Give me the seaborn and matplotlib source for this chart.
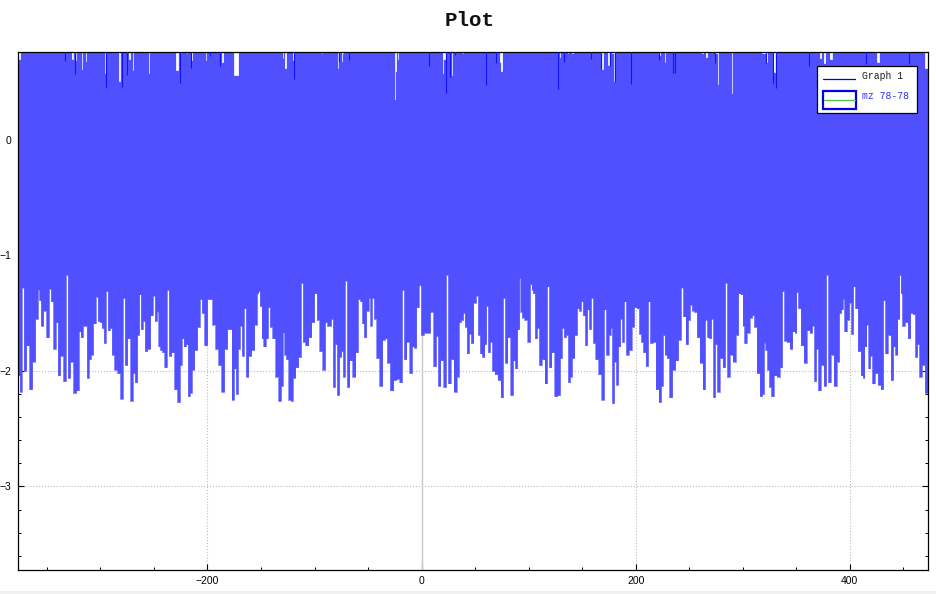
import pandas as pd
import seaborn as sns
from matplotlib import pyplot as plt
from matplotlib.lines import Line2D
from matplotlib.patches import Rectangle
from matplotlib.ticker import MultipleLocator

sns.set_style('white')
plt.rcParams['font.family'] = ['Liberation Sans', 'DejaVu Sans']

# lower edge of the signal
low_x = [-378.0, -376.3, -374.5, -372.6, -370.7, -367.9, -365.1, -362.3, -359.5, -357.6, -356.7, -354.8, -352.0, -349.2, -347.1, -345.5, -342.7, -340.8, -339.0, -336.2, -333.3, -331.5, -329.6, -326.8, -324.0, -321.2, -319.3, -317.8, -315.0, -313.7, -311.9, -310.0, -308.1, -305.6, -303.4, -301.6, -299.7, -297.8, -296.0, -294.1, -292.2, -290.4, -288.5, -285.7, -282.9, -280.1, -278.2, -276.3, -273.5, -270.7, -268.9, -267.0, -264.2, -263.3, -261.4, -259.5, -257.6, -254.8, -252.0, -250.2, -248.3, -246.4, -245.2, -243.3, -241.4, -239.0, -237.1, -235.2, -232.4, -229.6, -226.8, -224.9, -223.4, -221.2, -219.3, -217.5, -215.6, -213.7, -210.9, -208.1, -206.3, -204.4, -201.6, -198.8, -196.9, -194.1, -191.3, -188.5, -185.7, -182.9, -180.1,
         -178.8, -176.3, -174.4, -172.5, -170.7, -168.8, -167.0, -165.1, -163.2, -160.4, -157.6, -154.8, -152.9, -152.0, -150.4, -148.6, -147.0, -144.5, -142.6, -140.8, -138.0, -135.2, -132.4, -130.5, -128.9, -127.4, -125.8, -123.0, -121.5, -119.3, -116.5, -113.7, -111.8, -110.2, -107.1, -104.3, -101.5, -99.0, -96.9, -94.0, -91.2, -89.1, -87.2, -85.3, -83.8, -81.9, -80.0, -78.2, -75.7, -74.4, -72.6, -70.7, -68.8, -66.0, -63.2, -60.4, -58.5, -56.4, -54.8, -52.9, -50.4, -48.6, -47.3, -45.5, -43.6, -40.8, -38.0, -35.2, -33.3, -31.4, -27.7, -24.9, -22.1, -19.3, -17.4, -15.6, -12.7, -10.0, -8.1, -6.2, -3.7, -1.8, 0.6, 3.4, 6.6, 9.4, 12.5, 14.4, 16.2, 19.0, 21.8, 23.7, 25.6, 28.4, 31.2, 34.0,
         35.5, 38.0, 39.5, 41.1, 43.3, 45.2, 47.0, 49.8, 51.7, 53.6, 55.4, 57.6, 59.8, 61.0, 62.9, 64.8, 66.7, 69.5, 72.3, 75.1, 76.9, 78.8, 81.6, 84.4, 86.3, 88.1, 90.6, 91.9, 92.8, 94.7, 97.5, 100.3, 102.2, 103.1, 104.7, 106.8, 108.7, 110.6, 113.4, 116.2, 118.1, 119.9, 122.7, 125.5, 128.3, 130.2, 131.8, 133.9, 135.8, 137.7, 139.5, 141.4, 144.2, 146.1, 148.0, 149.8, 151.4, 153.9, 155.4, 157.3, 159.2, 161.0, 163.8, 166.6, 169.4, 171.3, 173.2, 176.0, 176.9, 178.8, 180.7, 182.5, 184.7, 186.3, 188.1, 190.0, 191.9, 194.7, 197.5, 199.4, 202.2, 204.0, 205.9, 207.8, 210.6, 212.4, 214.3, 217.1, 219.9, 222.7, 224.6, 226.1, 228.0, 229.9, 232.7, 235.5, 238.3, 241.1, 243.3, 245.1, 247.9, 249.8, 251.4, 253.5,
         255.7, 258.2, 261.0, 263.8, 265.7, 267.6, 269.7, 271.3, 273.2, 275.0, 276.9, 279.7, 282.5, 284.4, 286.3, 289.1, 291.9, 294.7, 296.8, 299.0, 300.6, 302.1, 304.9, 307.7, 309.6, 311.5, 314.3, 317.1, 319.0, 320.5, 321.8, 323.6, 325.5, 327.4, 330.2, 333.0, 335.8, 337.7, 339.5, 342.3, 345.1, 347.6, 349.5, 350.7, 352.6, 355.4, 358.2, 361.0, 363.8, 365.7, 367.6, 369.4, 371.3, 374.1, 376.9, 378.8, 380.6, 383.4, 386.2, 389.0, 390.9, 392.8, 394.0, 395.6, 398.4, 400.3, 402.1, 404.0, 405.9, 408.7, 411.5, 412.7, 414.6, 416.5, 418.0, 419.9, 421.8, 424.6, 427.4, 430.2, 432.0, 433.9, 436.7, 439.5, 441.4, 443.2, 445.7, 447.0, 447.9, 449.8, 452.6, 455.4, 457.6, 459.8, 462.0, 463.8, 465.7, 468.5, 471.3, 474.0]
low_y = [-2.04, -2.04, -2.18, -1.28, -2.00, -1.78, -2.16, -1.92, -1.55, -1.30, -1.39, -1.61, -1.48, -1.71, -1.29, -1.40, -1.81, -1.58, -2.04, -1.87, -2.09, -1.17, -2.06, -1.92, -2.19, -2.17, -1.66, -1.71, -1.61, -1.61, -2.06, -1.90, -1.86, -1.59, -1.36, -1.57, -1.58, -1.63, -1.76, -1.31, -1.65, -1.63, -1.86, -1.99, -2.02, -2.24, -1.37, -1.95, -1.72, -2.26, -2.02, -2.10, -1.69, -1.34, -1.64, -1.57, -1.83, -1.81, -1.52, -1.35, -1.57, -1.49, -1.79, -1.82, -1.84, -1.97, -1.30, -1.87, -1.84, -2.16, -2.27, -1.95, -1.72, -1.79, -1.77, -2.22, -2.19, -1.99, -1.82, -1.62, -1.38, -1.50, -1.78, -1.38, -1.38, -1.60, -1.81, -1.95, -2.18, -1.81, -1.64,
         -1.64, -2.25, -1.98, -2.20, -1.81, -1.61, -1.87, -1.46, -2.05, -1.87, -1.82, -1.60, -1.33, -1.31, -1.44, -1.72, -1.79, -1.72, -1.45, -1.62, -1.72, -2.05, -2.26, -2.13, -1.67, -1.86, -1.90, -2.25, -2.26, -2.06, -1.97, -1.88, -1.24, -1.75, -1.78, -1.71, -1.58, -1.33, -1.56, -1.83, -1.99, -1.58, -1.61, -1.61, -1.55, -2.14, -1.77, -2.21, -1.88, -1.83, -2.05, -1.22, -2.14, -1.91, -2.05, -1.84, -1.38, -1.40, -1.59, -1.71, -1.48, -1.37, -1.61, -1.37, -1.55, -1.89, -2.13, -1.73, -1.72, -1.93, -2.17, -2.08, -2.07, -2.10, -1.30, -1.90, -1.75, -2.02, -1.79, -1.80, -1.45, -1.26, -1.69, -1.67, -1.67, -1.49, -1.96, -1.70, -2.13, -1.91, -2.14, -1.17, -2.11, -1.90, -2.18, -2.05,
         -1.58, -1.56, -1.50, -1.62, -1.85, -1.68, -1.76, -1.41, -1.35, -1.69, -1.85, -1.88, -1.77, -1.44, -1.84, -1.75, -2.00, -2.03, -2.08, -2.23, -1.37, -1.93, -1.71, -2.21, -1.91, -1.98, -1.64, -1.20, -1.49, -1.54, -1.56, -1.75, -1.25, -1.30, -1.33, -1.72, -1.63, -1.95, -1.90, -2.11, -1.27, -1.97, -1.84, -2.22, -2.21, -1.89, -1.63, -1.71, -1.69, -2.10, -2.05, -1.89, -1.69, -1.46, -1.48, -1.40, -1.52, -1.78, -1.47, -1.64, -1.37, -1.76, -1.90, -2.03, -2.25, -1.47, -1.86, -1.69, -1.63, -2.28, -1.92, -2.12, -1.79, -1.55, -1.75, -1.40, -1.86, -1.82, -1.62, -1.45, -1.46, -1.68, -1.75, -1.84, -1.96, -1.40, -1.76, -1.75, -2.16, -2.27, -2.13, -1.69, -1.86, -1.89, -2.23, -1.99, -1.91, -1.73, -1.28, -1.53, -1.77, -1.56, -1.43, -1.48,
         -1.49, -1.71, -1.93, -2.16, -1.56, -1.71, -1.72, -1.55, -2.23, -1.77, -2.18, -1.89, -1.97, -1.24, -2.05, -1.86, -1.92, -1.69, -1.33, -1.34, -1.61, -1.76, -1.67, -1.54, -1.52, -1.62, -2.02, -2.22, -2.20, -1.76, -1.82, -1.99, -2.14, -2.22, -2.04, -2.05, -1.97, -1.31, -1.74, -1.75, -1.81, -1.66, -1.67, -1.32, -1.46, -1.78, -1.93, -1.65, -1.67, -1.61, -2.09, -1.81, -2.17, -1.95, -2.13, -1.17, -2.10, -1.86, -2.13, -1.92, -1.50, -1.47, -1.38, -1.66, -1.56, -1.41, -1.68, -1.27, -1.46, -1.83, -2.04, -2.06, -1.79, -1.60, -1.98, -1.87, -2.11, -2.02, -2.12, -2.16, -1.39, -1.85, -1.69, -2.08, -1.79, -1.86, -1.55, -1.17, -1.33, -1.61, -1.58, -1.72, -1.50, -1.51, -1.88, -1.77, -2.05, -1.95, -2.19, -2.19]

# upper edge, each value holds until the next x; 0.9 is above the visible range
high_x = [-380.0, -376.6, -373.8, -326.2, -324.6, -322.4, -321.8, -316.8, -316.2, -313.1, -312.5, -295.3, -294.7, -282.3, -281.0, -273.5, -271.0, -269.2, -268.6, -254.2, -253.6, -229.0, -226.8, -219.0, -217.8, -215.0, -213.1, -201.0, -200.4, -186.9, -184.4, -175.7, -171.0,
          -159.8, -159.2, -131.8, -130.9, -129.6, -128.7, -128.0, -126.2, -120.3, -118.4, -93.2, -92.5, -87.9, -87.2, -78.2, -77.3, -74.8, -73.8, -72.6, -65.4, -64.8, -34.6, -34.0, -25.3, -24.3, -23.4, -21.8, -20.9,
          6.5, 7.2, 19.9, 21.2, 23.0, 28.3, 29.3, 38.6, 39.2, 42.0, 42.6, 72.9, 74.4, 76.3, 100.9, 101.5, 129.0, 129.9, 132.7, 133.6, 136.4, 137.4, 140.2, 142.2, 142.7, 154.2, 154.8, 168.2, 170.4, 173.8, 175.7, 177.6, 179.7, 180.4, 182.2, 182.9, 195.3, 196.2,
          221.5, 223.3, 224.0, 227.4, 228.0, 229.3, 235.2, 236.1, 261.7, 263.5, 265.4, 267.9, 273.8, 276.9, 278.1, 290.0, 290.6, 317.7, 321.6, 323.6, 328.0, 331.4, 372.0, 374.4, 376.0, 377.5, 381.3, 384.4, 425.5, 428.0, 470.1, 474.0]
high_y = [0.9, 0.69, 0.9, 0.69, 0.9, 0.68, 0.9, 0.60, 0.9, 0.67, 0.9, 0.57, 0.9, 0.50, 0.9, 0.69, 0.9, 0.59, 0.9, 0.57, 0.9, 0.59, 0.9, 0.74, 0.9, 0.675, 0.9, 0.675, 0.9, 0.66, 0.9, 0.55, 0.9,
          0.55, 0.9, 0.635, 0.9, 0.70, 0.9, 0.606, 0.9, 0.675, 0.9, 0.74, 0.9, 0.70, 0.9, 0.606, 0.9, 0.67, 0.74, 0.9, 0.427, 0.9, 0.577, 0.9, 0.34, 0.583, 0.9, 0.687, 0.9,
          0.727, 0.9, 0.563, 0.687, 0.9, 0.55, 0.9, 0.74, 0.9, 0.67, 0.9, 0.664, 0.583, 0.9, 0.566, 0.9, 0.704, 0.9, 0.736, 0.9, 0.736, 0.9, 0.736, 0.693, 0.9, 0.626, 0.9, 0.60, 0.9, 0.64, 0.9, 0.736, 0.50, 0.9, 0.693, 0.9, 0.727, 0.9,
          0.72, 0.47, 0.9, 0.658, 0.745, 0.9, 0.577, 0.9, 0.736, 0.9, 0.704, 0.9, 0.736, 0.47, 0.9, 0.39, 0.9, 0.736, 0.66, 0.9, 0.577, 0.9, 0.693, 0.9, 0.65, 0.9, 0.687, 0.9, 0.664, 0.9, 0.606, 0.606]

# darker single spikes hanging from the top
dark_x = [-332.7, -323.4, -295.0, -279.5, -275.0, -225.9, -215.6, -197.2, -187.9, -119.6, -76.8, -68.2, 6.8, 22.4, 26.6, 31.5,
          59.8, 69.2, 127.1, 132.7, 158.2, 167.6, 175.7, 180.7, 195.3, 221.5, 234.7, 236.5, 274.1, 321.5, 328.6, 330.8, 361.7, 415.2, 455.7]
dark_y = [0.675, 0.57, 0.45, 0.45, 0.56, 0.49, 0.62, 0.72, 0.64, 0.525, 0.67, 0.69, 0.635, 0.40, 0.543, 0.727,
          0.47, 0.658, 0.433, 0.67, 0.693, 0.606, 0.635, 0.50, 0.479, 0.69, 0.577, 0.577, 0.658, 0.66, 0.49, 0.446, 0.635, 0.65, 0.65]

x_ticks = [-200, 0, 200, 400]
y_ticks = [0, -1, -2, -3]

fill_color = '#5050ff'

df_low = pd.DataFrame({'x': low_x, 'y': low_y})
df_high = pd.DataFrame({'x': high_x, 'y': high_y})

W, H = 936, 594
fig = plt.figure(figsize=(W / 100, H / 100), dpi=100)
ax = fig.add_axes([18.0 / W, 1 - 570.0 / H, 910 / W, 518 / H])

# the two fills overlap around zero so no seam shows
ax.fill_between(low_x, low_y, 0.2, step='mid', color=fill_color, lw=0, zorder=2)
ax.fill_between(high_x, -0.2, high_y, step='post', color=fill_color, lw=0, zorder=2)
sns.lineplot(data=df_low, x='x', y='y', estimator=None, sort=False, drawstyle='steps-mid',
             color=fill_color, lw=0.4, ax=ax, zorder=2)
sns.lineplot(data=df_high, x='x', y='y', estimator=None, sort=False, drawstyle='steps-post',
             color=fill_color, lw=0.2, ax=ax, zorder=2)
ax.vlines(dark_x, dark_y, 0.9, color='#1010ff', lw=0.8, zorder=3)

ax.set_xlim(-377, 473)
ax.set_ylim(-3.723, 0.757)
ax.set_xlabel('')
ax.set_ylabel('')

# grid
ax.set_axisbelow(True)
ax.set_xticks(x_ticks)
ax.set_yticks(y_ticks)
ax.xaxis.set_minor_locator(MultipleLocator(50))
ax.yaxis.set_minor_locator(MultipleLocator(0.2))
ax.grid(True, which='major', ls=':', color='#bdbdbd', lw=0.8)
ax.axvline(0, color='#c8c8c8', lw=1, zorder=1)

ax.tick_params(which='major', direction='in', length=4, width=0.8, color='black',
               top=True, right=True, bottom=True, left=True, labelsize=7.5, labelcolor='black')
ax.tick_params(which='minor', direction='in', length=2.5, width=0.7, color='black',
               top=True, right=True, bottom=True, left=True)
ax.tick_params(axis='x', which='major', pad=4)
ax.tick_params(axis='y', which='major', pad=4.5)
for side in ax.spines.values():
    side.set_visible(True)
    side.set_color('black')
    side.set_linewidth(0.9)

fig.text(470 / W, 1 - 20.5 / H, 'Plot', ha='center', va='center', fontsize=15,
         family='Liberation Mono', weight='bold', color='#111111')

# legend box, drawn by hand to keep its proportions
def fx(px):
    return px / W

def fy(py):
    return 1 - py / H

fig.add_artist(Rectangle((fx(816.5), fy(113.2)), 100.5 / W, 47.7 / H, transform=fig.transFigure,
                         fc='white', ec='black', lw=0.9, zorder=5))
fig.add_artist(Line2D([fx(823), fx(855)], [fy(79.3), fy(79.3)], color='#0000e6', lw=0.9, zorder=6))
fig.add_artist(Rectangle((fx(823), fy(109)), 32.5 / W, 18.3 / H, transform=fig.transFigure,
                         fc='white', ec='#0000e6', lw=1.6, zorder=6))
fig.add_artist(Line2D([fx(824), fx(854.5)], [fy(100.3), fy(100.3)], color='#55c040', lw=0.9, zorder=7))
fig.text(fx(862), fy(75.7), 'Graph 1', ha='left', va='center', fontsize=7,
         family='Liberation Mono', color='#222222', zorder=7)
fig.text(fx(862), fy(96), 'mz 78-78', ha='left', va='center', fontsize=7,
         family='Liberation Mono', color='#2a2aff', zorder=7)

# light band along the bottom edge of the window
fig.add_artist(Rectangle((0, 0), 1, 3.5 / H, transform=fig.transFigure, fc='#f0f0f0', ec='none', zorder=0))

fig.savefig('out.png', dpi=100)
